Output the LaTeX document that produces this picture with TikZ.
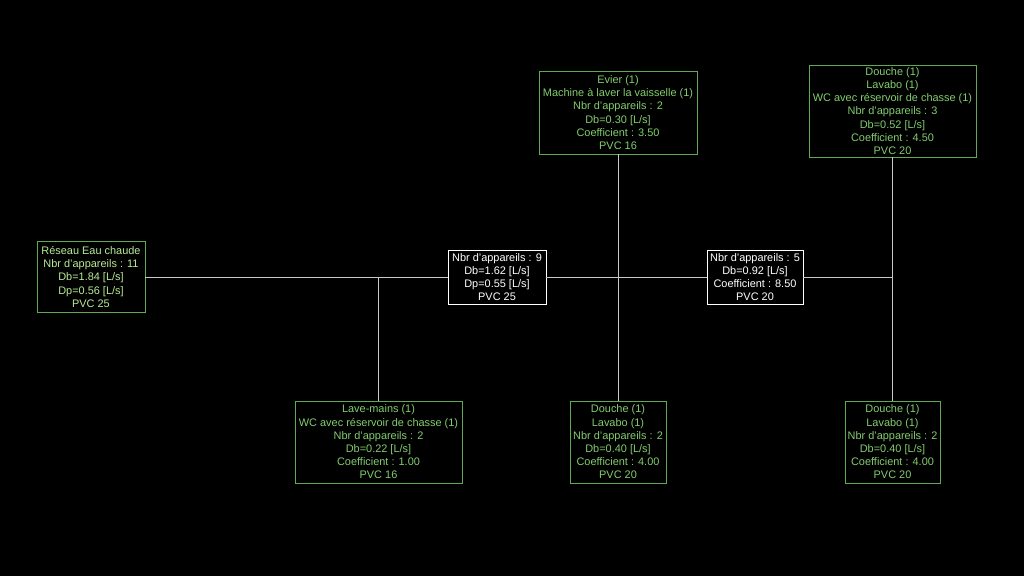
\documentclass[tikz,border=0pt]{standalone}
\usepackage{fontspec}
\setmainfont{Liberation Sans}
\definecolor{boxgreen}{RGB}{96,170,84}
\definecolor{txtgreen}{RGB}{130,205,110}
\definecolor{txtpale}{RGB}{185,235,150}
\definecolor{pipegray}{RGB}{200,200,200}
\begin{document}
\begin{tikzpicture}[x=0.75pt,y=-0.75pt,
  every node/.style={font=\fontsize{8.2}{9.9}\selectfont, align=center, inner sep=0pt},
  gbox/.style={draw=boxgreen, fill=black, text=txtgreen, line width=0.6pt},
  wbox/.style={draw=white, fill=black, text=white, line width=0.6pt},
  pipe/.style={draw=pipegray, line width=0.5pt}]
		\fill[black] (0,0) rectangle (1024,576);
		\useasboundingbox (0,0) rectangle (1024,576);
		% branches and nodes (sizes in px times 0.75)
		\node [gbox, text=txtpale, minimum width=81pt, minimum height=53.25pt] (reseau) at (91,277)
		{Réseau Eau chaude\\Nbr d'appareils : 11\\Db=1.84 [L/s]\\Dp=0.56 [L/s]\\PVC 25};
		\node [wbox, minimum width=73.5pt, minimum height=40.5pt] (n9) at (497,277)
		{Nbr d'appareils : 9\\Db=1.62 [L/s]\\Dp=0.55 [L/s]\\PVC 25};
		\node [wbox, minimum width=72pt, minimum height=40.5pt] (n5) at (755,277)
		{Nbr d'appareils : 5\\Db=0.92 [L/s]\\Coefficient : 8.50\\PVC 20};
		\node [gbox, minimum width=118.5pt, minimum height=62.25pt] (evier) at (618,112.5)
		{Evier (1)\\Machine à laver la vaisselle (1)\\Nbr d'appareils : 2\\Db=0.30 [L/s]\\Coefficient : 3.50\\PVC 16};
		\node [gbox, minimum width=125.25pt, minimum height=69pt] (douchehaut) at (892.5,111)
		{Douche (1)\\Lavabo (1)\\WC avec réservoir de chasse (1)\\Nbr d'appareils : 3\\Db=0.52 [L/s]\\Coefficient : 4.50\\PVC 20};
		\node [gbox, minimum width=125.25pt, minimum height=61.5pt] (lavemains) at (378.5,442)
		{Lave-mains (1)\\WC avec réservoir de chasse (1)\\Nbr d'appareils : 2\\Db=0.22 [L/s]\\Coefficient : 1.00\\PVC 16};
		\node [gbox, minimum width=72pt, minimum height=61.5pt] (douchemil) at (618,442)
		{Douche (1)\\Lavabo (1)\\Nbr d'appareils : 2\\Db=0.40 [L/s]\\Coefficient : 4.00\\PVC 20};
		\node [gbox, minimum width=71.25pt, minimum height=61.5pt] (douchebas) at (892.5,442)
		{Douche (1)\\Lavabo (1)\\Nbr d'appareils : 2\\Db=0.40 [L/s]\\Coefficient : 4.00\\PVC 20};
		% junctions on the main line
		\coordinate (j1) at (lavemains.north |- reseau.east);
		\coordinate (j3) at (douchebas.north |- reseau.east);
		\draw [pipe] (reseau.east) -- (n9.west);
		\draw [pipe] (n9.east) -- (n5.west);
		\draw [pipe] (n5.east) -- (j3);
		\draw [pipe] (j1) -- (lavemains.north);
		\draw [pipe] (evier.south) -- (douchemil.north);
		\draw [pipe] (douchehaut.south) -- (douchebas.north);
\end{tikzpicture}
\end{document}
